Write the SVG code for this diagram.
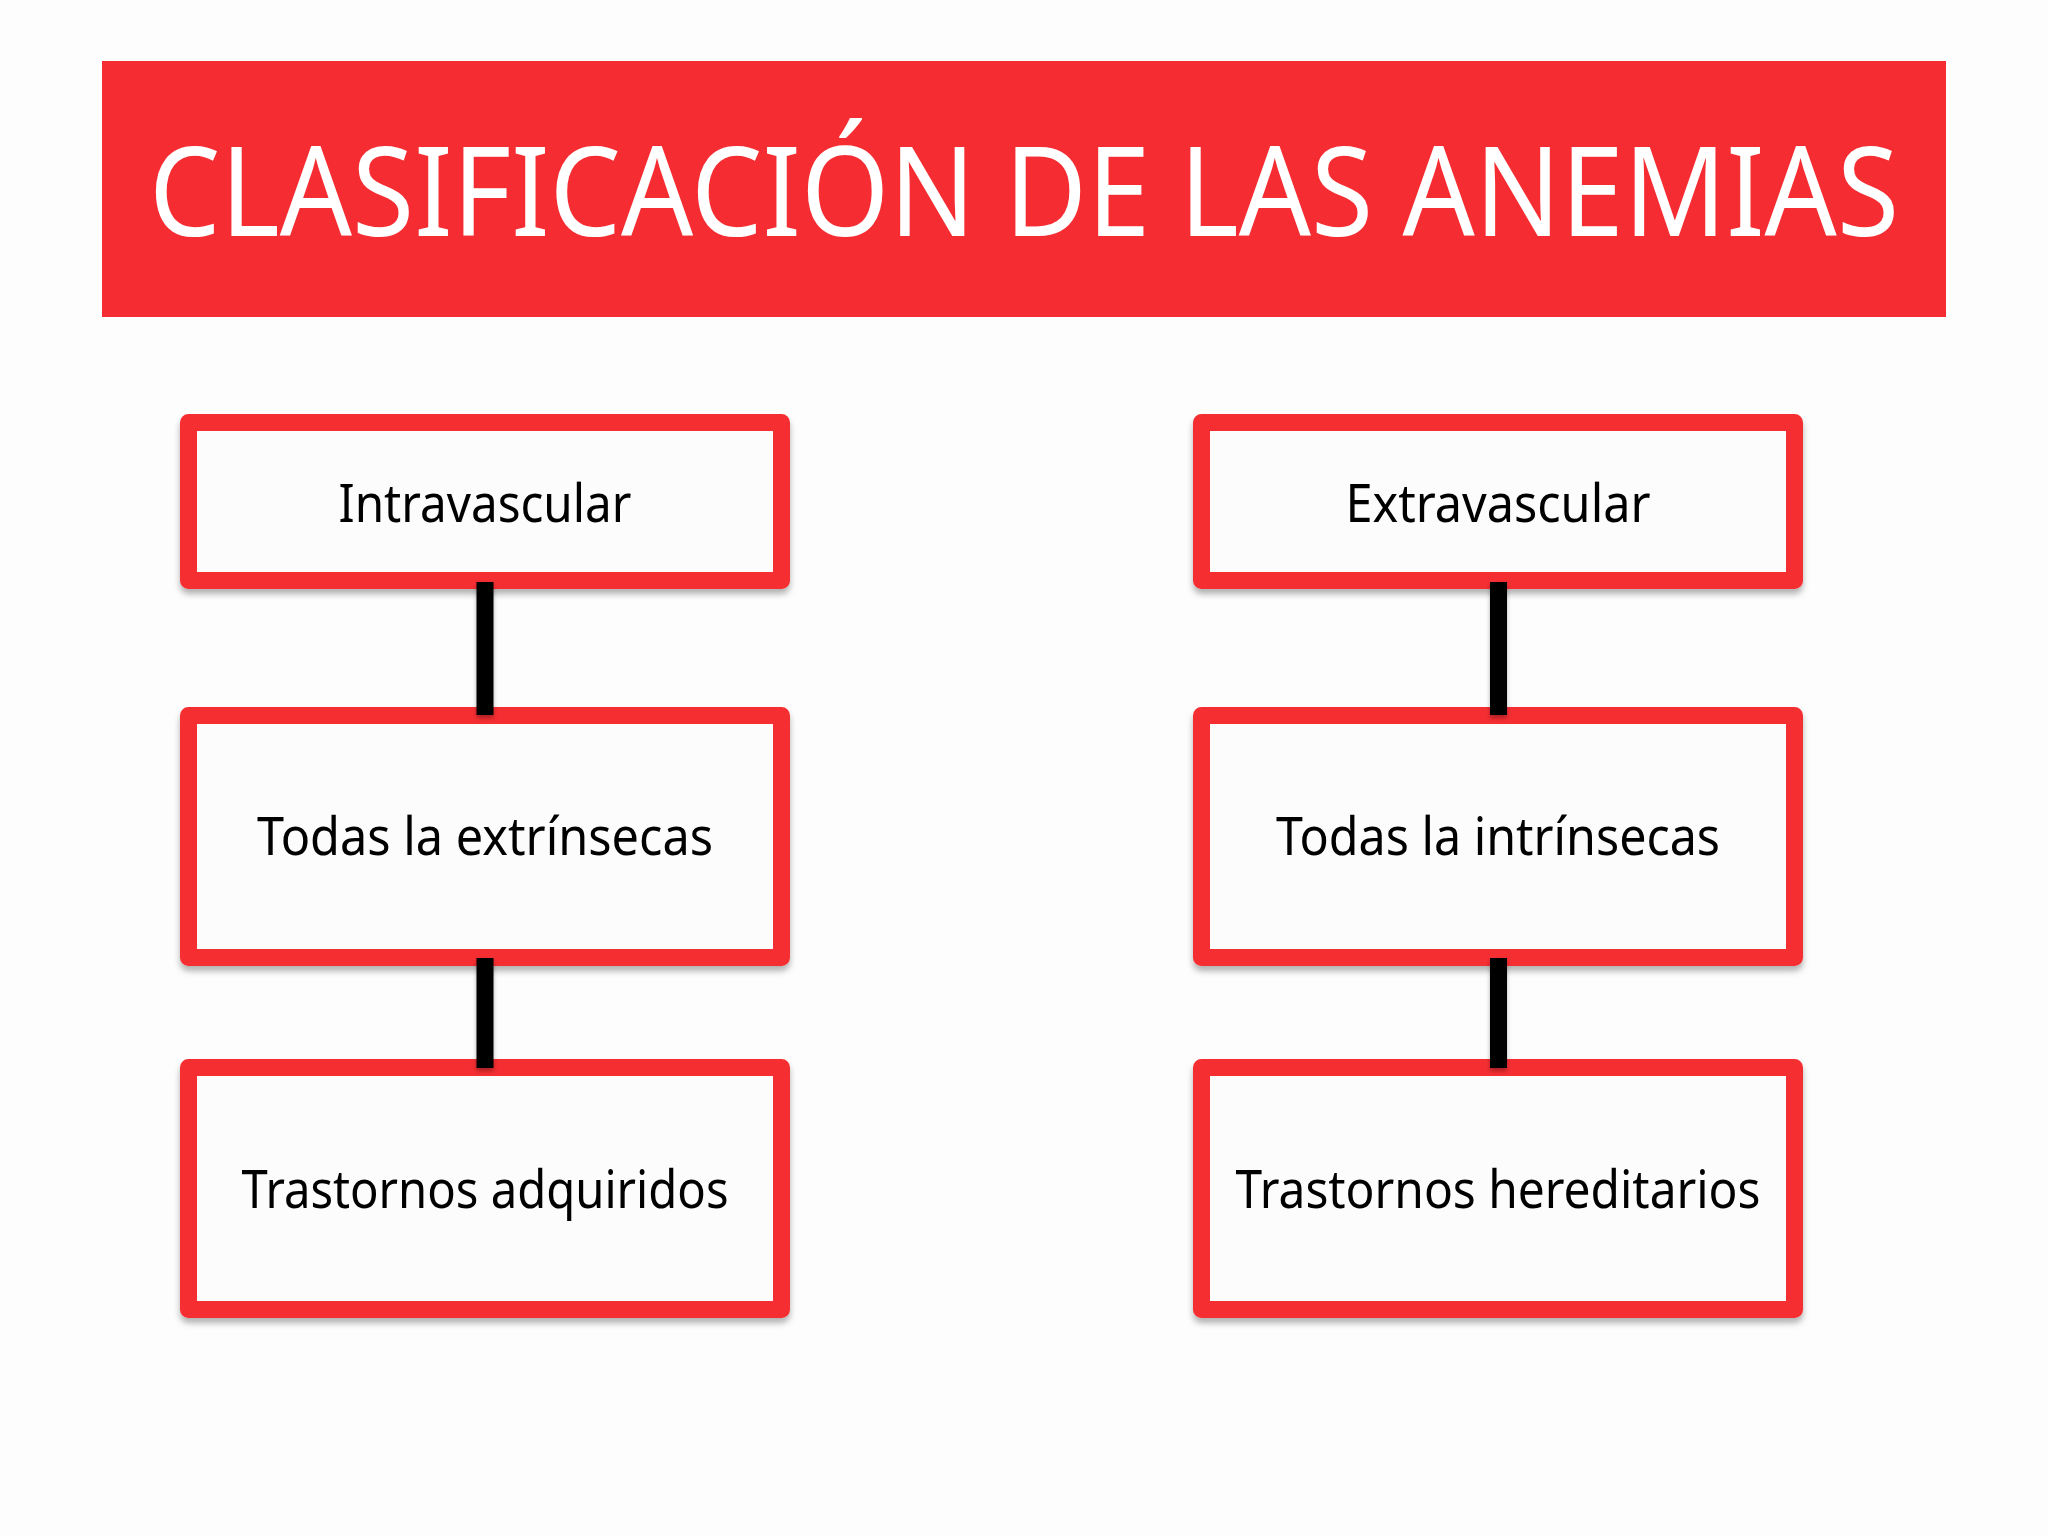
<svg xmlns="http://www.w3.org/2000/svg" width="2048" height="1536" viewBox="0 0 2048 1536">
  <style>
    .box { fill: #FDFCFC; stroke: #F52D32; stroke-width: 17; stroke-linejoin: round; filter: url(#shadow); }
    .lbl { font-family: "Noto Sans", "DejaVu Sans", sans-serif; font-size: 52px; fill: #000; text-anchor: middle; }
    .title { font-family: "Noto Sans", "DejaVu Sans", sans-serif; font-size: 124px; fill: #FFFFFF; text-anchor: middle; }
    .conn { fill: #000; stroke: none; filter: url(#shadow2); }
  </style>
  <defs>
    <filter id="shadow" x="-5%" y="-5%" width="110%" height="120%">
      <feDropShadow dx="0" dy="5" stdDeviation="3" flood-color="#000" flood-opacity="0.3"/>
    </filter>
    <filter id="shadow2" x="-50%" y="-5%" width="200%" height="115%">
      <feDropShadow dx="0" dy="3" stdDeviation="2" flood-color="#000" flood-opacity="0.3"/>
    </filter>
  </defs>
  <rect x="0" y="0" width="2048" height="1536" fill="#FDFDFD"/>
  <g id="title">
    <rect x="102" y="61" width="1844" height="256" fill="#F52D32"/>
    <text class="title" x="1024" y="236" textLength="1750" lengthAdjust="spacingAndGlyphs">CLASIFICACIÓN DE LAS ANEMIAS</text>
  </g>
  <g id="intravascular">
    <rect class="box" x="188.5" y="422.5" width="593" height="158"/>
    <text class="lbl" x="485" y="522" textLength="293" lengthAdjust="spacingAndGlyphs">Intravascular</text>
  </g>
  <g id="extrinsecas">
    <rect class="box" x="188.5" y="715.5" width="593" height="242"/>
    <text class="lbl" x="485" y="855" textLength="456" lengthAdjust="spacingAndGlyphs">Todas la extrínsecas</text>
  </g>
  <g id="adquiridos">
    <rect class="box" x="188.5" y="1067.5" width="593" height="242"/>
    <text class="lbl" x="485" y="1208" textLength="487" lengthAdjust="spacingAndGlyphs">Trastornos adquiridos</text>
  </g>
  <g id="extravascular">
    <rect class="box" x="1201.5" y="422.5" width="593" height="158"/>
    <text class="lbl" x="1498" y="522" textLength="305" lengthAdjust="spacingAndGlyphs">Extravascular</text>
  </g>
  <g id="intrinsecas">
    <rect class="box" x="1201.5" y="715.5" width="593" height="242"/>
    <text class="lbl" x="1498" y="855" textLength="444" lengthAdjust="spacingAndGlyphs">Todas la intrínsecas</text>
  </g>
  <g id="hereditarios">
    <rect class="box" x="1201.5" y="1067.5" width="593" height="242"/>
    <text class="lbl" x="1498" y="1208" textLength="525" lengthAdjust="spacingAndGlyphs">Trastornos hereditarios</text>
  </g>
  <g id="connectors">
    <rect class="conn" x="476.5" y="582" width="17" height="133"/>
    <rect class="conn" x="476.5" y="958" width="17" height="110"/>
    <rect class="conn" x="1490" y="582" width="17" height="133"/>
    <rect class="conn" x="1490" y="958" width="17" height="110"/>
  </g>
</svg>
